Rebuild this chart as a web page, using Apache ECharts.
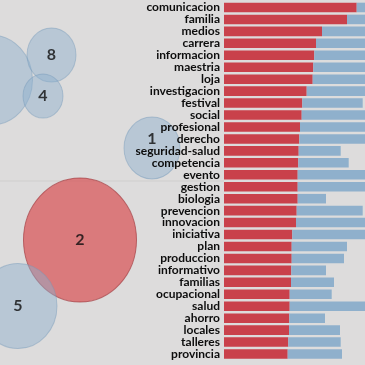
<!DOCTYPE html>
<html>
<head>
<meta charset="utf-8">
<script src="https://cdn.jsdelivr.net/npm/echarts@6/dist/echarts.min.js"></script>
<style>
	html, body {margin: 0; padding: 0; background: #dddcdc;}
	#chart {width: 365px; height: 365px;}
</style>
</head>
<body>
<div id="chart"></div>
<script type="text/javascript">
	// palabras y frecuencias (rojo = cluster, azul = resto)
	var words = ['comunicacion', 'familia', 'medios', 'carrera', 'informacion', 'maestria', 'loja',
		'investigacion', 'festival', 'social', 'profesional', 'derecho', 'seguridad-salud', 'competencia',
		'evento', 'gestion', 'biologia', 'prevencion', 'innovacion', 'iniciativa', 'plan', 'produccion',
		'informativo', 'familias', 'ocupacional', 'salud', 'ahorro', 'locales', 'talleres', 'provincia'];
	var redValues = [132.7, 123, 98, 92, 90.3, 89.3, 88.7, 82.7, 78.3, 77.7, 76, 75.3, 74.7, 74.3,
		73.7, 73.7, 73.7, 72.7, 72, 68.3, 67.7, 67.7, 67.3, 67, 65.7, 65.7, 65.3, 65, 64.3, 63.7];
	var blueValues = [22, 30, 55, 60, 62, 63, 64, 70, 60.4, 75, 78, 78, 42, 50.4, 80, 80, 28.3, 66,
		82, 85, 55.3, 52.3, 34.7, 43, 42, 88, 35.7, 51, 52.4, 54.3];

	// burbujas: x, y, ancho, alto
	var bubbleNames = ['', '8', '4', '1', '2', '5'];
	var bubbleX = [-9, 51.5, 43, 152, 80, 18];
	var bubbleY = [80, 55, 96, 148, 240, 306];
	var bubbleW = [83, 49, 40, 56, 113, 78];
	var bubbleH = [90, 54, 44, 62, 124, 85];
	var bubbleRed = [false, false, false, false, true, false];

	var bubbleData = [];
	for (var i = 0; i < bubbleNames.length; i++) {
		bubbleData.push({
			name: bubbleNames[i],
			value: [bubbleX[i], bubbleY[i], bubbleW[i], bubbleH[i]],
			symbolSize: [bubbleW[i], bubbleH[i]],
			label: {offset: bubbleNames[i] == '1' ? [0, -9] : [0, 0]},
			itemStyle: bubbleRed[i] ? {
				color: 'rgba(216,68,70,0.8)', borderColor: 'rgba(160,45,50,0.8)', borderWidth: 1
			} : {
				color: 'rgba(140,175,205,0.58)', borderColor: 'rgba(120,155,185,0.6)', borderWidth: 1
			}
		});
	}

	var font = 'Lato, "Open Sans", sans-serif';
	var option = {
		backgroundColor: '#dddcdc',
		animation: false,
		grid: [
			{left: 0, right: 0, top: 0, bottom: 0},
			{left: 224, right: 0, top: 1.5, bottom: 5}
		],
		xAxis: [
			{gridIndex: 0, type: 'value', min: 0, max: 365, show: false},
			{gridIndex: 1, type: 'value', min: 0, max: 141, show: false}
		],
		yAxis: [
			{gridIndex: 0, type: 'value', min: 0, max: 365, inverse: true, show: false},
			{
				gridIndex: 1, type: 'category', data: words, inverse: true, z: 10,
				axisLine: {show: false}, axisTick: {show: false},
				axisLabel: {
					interval: 0, color: '#0d0d0d', fontFamily: font, fontWeight: 'bold',
					fontSize: 12, margin: 4
				}
			}
		],
		series: [
			{
				type: 'line', xAxisIndex: 0, yAxisIndex: 0, z: 0,
				data: [[0, 181], [224, 181]], symbol: 'none', silent: true,
				lineStyle: {color: '#cfcecd', width: 1}
			},
			{
				type: 'scatter', xAxisIndex: 0, yAxisIndex: 0, z: 1, clip: false,
				data: bubbleData,
				label: {
					show: true, formatter: '{b}', color: '#0d0d0d',
					fontFamily: font, fontWeight: 'bold', fontSize: 16
				}
			},
			{
				type: 'bar', xAxisIndex: 1, yAxisIndex: 1, stack: 'w', z: 3,
				data: redValues, barCategoryGap: '20%',
				itemStyle: {color: '#c9414b'}
			},
			{
				type: 'bar', xAxisIndex: 1, yAxisIndex: 1, stack: 'w', z: 3,
				data: blueValues,
				itemStyle: {color: '#8fb0cc'}
			}
		]
	};
	var myChart = echarts.init(document.getElementById('chart'));
	myChart.setOption(option);
</script>
</body>
</html>
